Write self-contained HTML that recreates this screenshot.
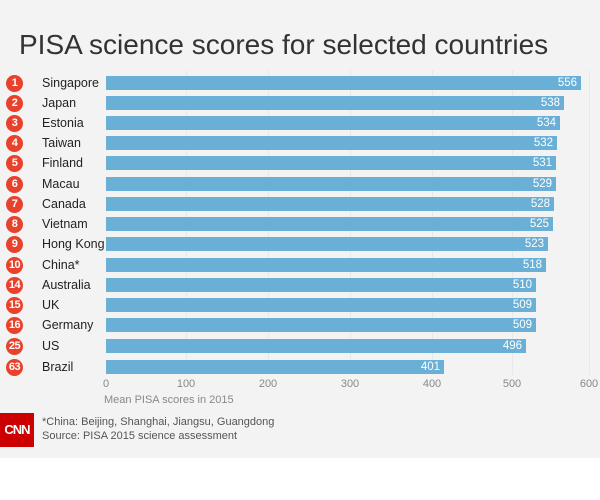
<!DOCTYPE html><html><head><style>
body{margin:0;background:#fff}
#c{position:relative;width:600px;height:500px;background:#f3f3f3;font-family:"Liberation Sans",sans-serif;overflow:hidden}
.t{position:absolute;left:19px;top:29px;font-size:28px;color:#333}
.r{position:absolute;left:0;height:20px;width:600px}
.n{position:absolute;left:6px;top:2px;width:17px;height:17px;border-radius:50%;background:#e8412c;color:#fff;font-size:11px;text-align:center;line-height:17px;font-weight:bold;letter-spacing:-0.5px}
.l{position:absolute;left:42px;top:3px;font-size:12.5px;color:#222}
.b{position:absolute;left:106px;top:3px;height:14px;background:#6aafd5}
.v{position:absolute;right:4px;top:0;font-size:11.5px;color:#fff;line-height:14px}
.x{position:absolute;top:378px;font-size:11px;color:#888;transform:translateX(-50%)}
.g{position:absolute;top:70px;height:305px;width:1px;background:#e8e8e8}
.f{position:absolute;left:42px;font-size:11px;color:#555}
</style></head><body><div id="c">
<div class="t">PISA science scores for selected countries</div>
<div class="g" style="left:186px"></div><div class="g" style="left:268px"></div><div class="g" style="left:350px"></div><div class="g" style="left:432px"></div><div class="g" style="left:512px"></div><div class="g" style="left:589px"></div>
<div class="r" style="top:73px"><div class="n">1</div><div class="l">Singapore</div><div class="b" style="width:475px"><span class="v">556</span></div></div>
<div class="r" style="top:93px"><div class="n">2</div><div class="l">Japan</div><div class="b" style="width:458px"><span class="v">538</span></div></div>
<div class="r" style="top:113px"><div class="n">3</div><div class="l">Estonia</div><div class="b" style="width:454px"><span class="v">534</span></div></div>
<div class="r" style="top:133px"><div class="n">4</div><div class="l">Taiwan</div><div class="b" style="width:451px"><span class="v">532</span></div></div>
<div class="r" style="top:153px"><div class="n">5</div><div class="l">Finland</div><div class="b" style="width:450px"><span class="v">531</span></div></div>
<div class="r" style="top:174px"><div class="n">6</div><div class="l">Macau</div><div class="b" style="width:450px"><span class="v">529</span></div></div>
<div class="r" style="top:194px"><div class="n">7</div><div class="l">Canada</div><div class="b" style="width:448px"><span class="v">528</span></div></div>
<div class="r" style="top:214px"><div class="n">8</div><div class="l">Vietnam</div><div class="b" style="width:447px"><span class="v">525</span></div></div>
<div class="r" style="top:234px"><div class="n">9</div><div class="l">Hong Kong</div><div class="b" style="width:442px"><span class="v">523</span></div></div>
<div class="r" style="top:255px"><div class="n">10</div><div class="l">China*</div><div class="b" style="width:440px"><span class="v">518</span></div></div>
<div class="r" style="top:275px"><div class="n">14</div><div class="l">Australia</div><div class="b" style="width:430px"><span class="v">510</span></div></div>
<div class="r" style="top:295px"><div class="n">15</div><div class="l">UK</div><div class="b" style="width:430px"><span class="v">509</span></div></div>
<div class="r" style="top:315px"><div class="n">16</div><div class="l">Germany</div><div class="b" style="width:430px"><span class="v">509</span></div></div>
<div class="r" style="top:336px"><div class="n">25</div><div class="l">US</div><div class="b" style="width:420px"><span class="v">496</span></div></div>
<div class="r" style="top:357px"><div class="n">63</div><div class="l">Brazil</div><div class="b" style="width:338px"><span class="v">401</span></div></div>
<div class="x" style="left:106px">0</div><div class="x" style="left:186px">100</div><div class="x" style="left:268px">200</div><div class="x" style="left:350px">300</div><div class="x" style="left:432px">400</div><div class="x" style="left:512px">500</div><div class="x" style="left:589px">600</div>
<div style="position:absolute;left:104px;top:394px;font-size:11px;color:#888">Mean PISA scores in 2015</div>
<div style="position:absolute;left:0;top:413px;width:34px;height:34px;background:#cc0000;color:#fff;font-weight:bold;font-size:13px;line-height:34px;text-align:center;letter-spacing:-1px">CNN</div>
<div class="f" style="top:416px">*China: Beijing, Shanghai, Jiangsu, Guangdong</div>
<div class="f" style="top:430px">Source: PISA 2015 science assessment</div>
<div style="position:absolute;left:0;top:458px;width:600px;height:42px;background:#fff"></div>
</div></body></html>
